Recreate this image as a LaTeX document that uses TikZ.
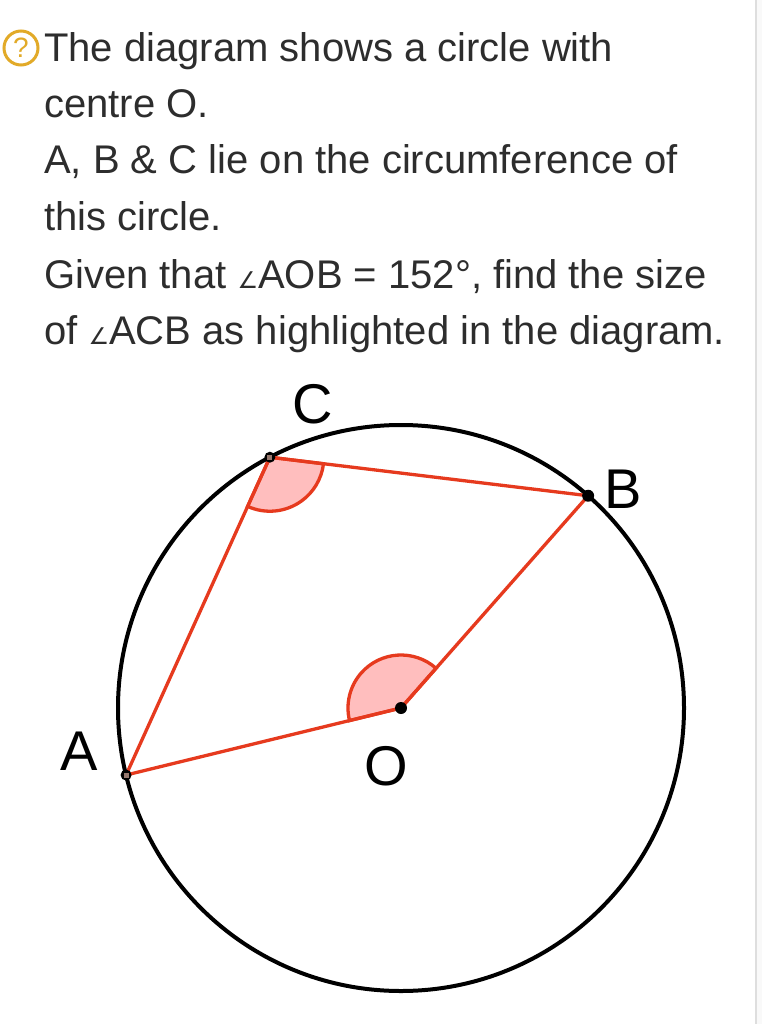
\documentclass[tikz,border=0pt]{standalone}
\usepackage{fontspec}
\usetikzlibrary{calc}
\setmainfont{Liberation Sans}
\newfontfamily\symfont{DejaVu Sans}
\definecolor{txtgray}{RGB}{45,45,45}
\definecolor{qgold}{RGB}{226,170,40}
\definecolor{geored}{RGB}{230,58,30}
\definecolor{geopink}{RGB}{255,190,190}
\definecolor{edgegray}{RGB}{222,222,222}
\definecolor{offwhite}{RGB}{249,249,249}
\definecolor{ptinner}{RGB}{150,120,110}
\newcommand{\angsym}{{\symfont\fontsize{23}{23}\selectfont ∠}}
\tikzset{
  qtext/.style={anchor=base west, inner sep=0pt, text=txtgray, font=\fontsize{40}{40}\selectfont},
  ptlabel/.style={inner sep=0pt, text=black, font=\fontsize{56}{56}\selectfont},
  circ/.style={draw=black, line width=4pt},
  seg/.style={draw=geored, line width=3.3pt},
  sector/.style={draw=geored, fill=geopink, line width=3.3pt},
  bigpt/.style={fill=black},
}
\begin{document}
\begin{tikzpicture}[x=1pt,y=1pt]
\useasboundingbox (0,0) rectangle (762,-1024);
\fill[white] (0,0) rectangle (762,-1024);
\fill[offwhite] (757,0) rectangle (762,-1024);
\draw[edgegray, line width=2pt] (756,0) -- (756,-1024);
% question icon
\draw[qgold, line width=3pt] (21,-48) circle[radius=17];
\node[inner sep=0pt, text=qgold, font=\fontsize{28}{28}\selectfont] (qm) at (21,-48) {?};
% text
\node[qtext] (t1) at (44,-62) {The diagram shows a circle with};
\node[qtext] (t2) at (44,-118) {centre O.};
\node[qtext] (t3) at (44,-174) {A, B \& C lie on the circumference of};
\node[qtext] (t4) at (44,-231) {this circle.};
\node[qtext] (t5) at (44,-288) {Given that \angsym AOB = 152°, find the size};
\node[qtext] (t6) at (44,-344) {of \angsym ACB as highlighted in the diagram.};
% geometry
\coordinate (O) at (401,-708);
\coordinate (A) at ($(O)+(193.7:283)$);
\coordinate (B) at ($(O)+(48.6:283)$);
\coordinate (C) at ($(O)+(117.6:283)$);
\draw[circ] (O) circle[radius=283];
\filldraw[sector] (O) -- ++(48.6:53) arc[start angle=48.6, end angle=193.7, radius=53] -- cycle;
\filldraw[sector] (C) -- ++(-114.4:54) arc[start angle=-114.4, end angle=-7.0, radius=54] -- cycle;
\draw[seg] (A) -- (C) -- (B) -- (O) -- (A);
\fill[bigpt] (B) circle[radius=6];
\fill[bigpt] (O) circle[radius=6];
\fill[bigpt] (A) circle[radius=5.5];
\fill[bigpt] (C) circle[radius=5.5];
\fill[ptinner] ($(A)+(-2.5,-2.5)$) rectangle ($(A)+(2.5,2.5)$);
\fill[ptinner] ($(C)+(-2.5,-2.5)$) rectangle ($(C)+(2.5,2.5)$);
% labels
\node[ptlabel] (lC) at (313,-404) {C};
\node[ptlabel] (lB) at (623,-489) {B};
\node[ptlabel] (lA) at (79,-751) {A};
\node[ptlabel] (lO) at (386,-766) {O};
\end{tikzpicture}
\end{document}
